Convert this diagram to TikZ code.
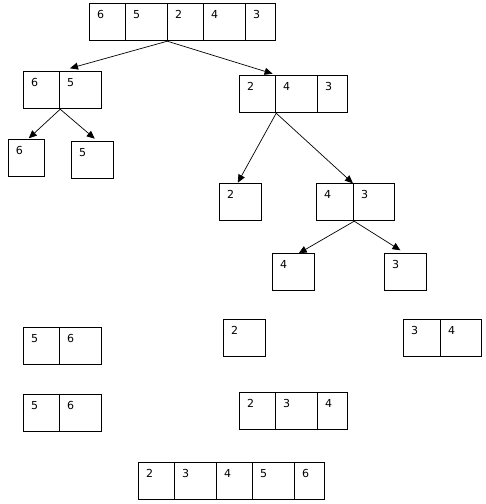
\documentclass[tikz,border=0pt]{standalone}
\usepackage{fontspec}
\setmainfont{DejaVu Sans}
\usetikzlibrary{arrows.meta,calc}
\tikzset{
  cellbox/.style={draw=black, line width=0.9pt, inner sep=0pt, anchor=north west, minimum height=37pt},
  num/.style={anchor=base west, inner sep=0pt, font=\fontsize{11}{13}\selectfont},
  link/.style={draw=black, line width=0.7pt, -{Triangle[length=8pt,width=7pt]}}
}
\newcommand{\mycell}[5]{%
  \node[cellbox, minimum width=#3pt-#2pt] (#1) at (#2,#4) {};
  \node[num] (#1t) at ([xshift=7.5pt,yshift=-15pt]#1.north west) {#5};
}
\begin{document}
\begin{tikzpicture}[x=1pt,y=-1pt]
\useasboundingbox (0,0) rectangle (486,504);
% top array
\mycell{t1}{89.3}{125.3}{3.3}{6}
\mycell{t2}{125.3}{167.3}{3.3}{5}
\mycell{t3}{167.3}{203.3}{3.3}{2}
\mycell{t4}{203.3}{245.3}{3.3}{4}
\mycell{t5}{245.3}{275.3}{3.3}{3}
% level 2 left
\mycell{la}{23.3}{59.3}{71.3}{6}
\mycell{lb}{59.3}{101.3}{71.3}{5}
% level 2 right
\mycell{ra}{239.3}{275.3}{75.3}{2}
\mycell{rb}{275.3}{317.3}{75.3}{4}
\mycell{rc}{317.3}{347.3}{75.3}{3}
% level 3 left
\mycell{s6}{8.3}{44.3}{139.3}{6}
\mycell{s5}{71.3}{113.3}{141.3}{5}
% level 3 right
\mycell{s2}{219.3}{261.3}{183.3}{2}
\mycell{ma}{316.3}{353.3}{183.3}{4}
\mycell{mb}{353.3}{394.3}{183.3}{3}
% level 4
\mycell{s4}{272.3}{314.3}{253.3}{4}
\mycell{s3}{384.3}{426.3}{253.3}{3}
% merges
\mycell{ua}{23.3}{59.3}{327.3}{5}
\mycell{ub}{59.3}{101.3}{327.3}{6}
\mycell{v2}{223.3}{265.3}{319.3}{2}
\mycell{wa}{403.3}{440.3}{319.3}{3}
\mycell{wb}{440.3}{481.3}{319.3}{4}
\mycell{xa}{23.3}{59.3}{394.3}{5}
\mycell{xb}{59.3}{101.3}{394.3}{6}
\mycell{ya}{239.3}{275.3}{392.3}{2}
\mycell{yb}{275.3}{317.3}{392.3}{3}
\mycell{yc}{317.3}{347.3}{392.3}{4}
\mycell{za}{138.3}{174.3}{462.3}{2}
\mycell{zb}{174.3}{216.3}{462.3}{3}
\mycell{zc}{216.3}{252.3}{462.3}{4}
\mycell{zd}{252.3}{294.3}{462.3}{5}
\mycell{ze}{294.3}{324.3}{462.3}{6}
% connectors
\draw[link] (t3.south west) -- ([xshift=10.7pt,yshift=3pt]lb.north west);
\draw[link] (t3.south west) -- ([xshift=-3.6pt,yshift=1.6pt]ra.north east);
\draw[link] (la.south east) -- ([xshift=2pt,yshift=1pt]s6.north);
\draw[link] (la.south east) -- ([xshift=2pt,yshift=2.6pt]s5.north);
\draw[link] (ra.south east) -- ([xshift=-3pt,yshift=0.6pt]s2.north);
\draw[link] (ra.south east) -- ([xshift=-1.3pt]ma.north east);
\draw[link] (ma.south east) -- ([xshift=5pt]s4.north);
\draw[link] (ma.south east) -- ([xshift=-5.3pt,yshift=3pt]s3.north);
\end{tikzpicture}
\end{document}
